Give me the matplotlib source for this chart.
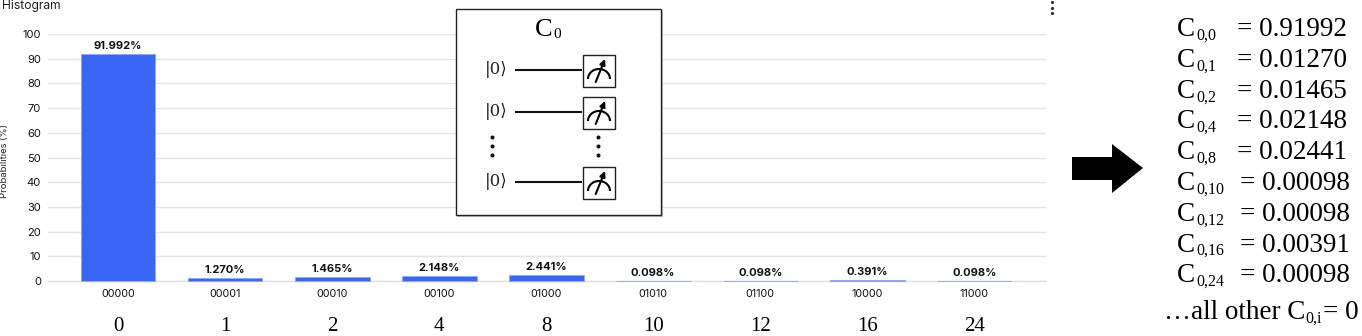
import matplotlib
matplotlib.use('Agg')
import matplotlib.pyplot as plt
from matplotlib.patches import Rectangle, Polygon, Arc

# values
bitstrings = ['00000', '00001', '00010', '00100', '01000', '01010', '01100', '10000', '11000']
states = ['0', '1', '2', '4', '8', '10', '12', '16', '24']
probabilities = [91.992, 1.270, 1.465, 2.148, 2.441, 0.098, 0.098, 0.391, 0.098]
coeff_values = ['0.91992', '0.01270', '0.01465', '0.02148', '0.02441', '0.00098', '0.00098', '0.00391', '0.00098']

W, H = 1362, 336
ui_font = ['Inter', 'DejaVu Sans']
serif = ['Liberation Serif', 'DejaVu Serif']

fig = plt.figure(figsize=(W / 100, H / 100), dpi=100)

# histogram
ax = fig.add_axes([48 / W, 1 - 281 / H, (1046 - 48) / W, (281 - 34) / H])
xs = list(range(len(states)))
ax.set_axisbelow(True)
ax.yaxis.grid(True, color='#e4e4e4', linewidth=1)
ax.axhline(0, color='#e0e0e0', linewidth=1, clip_on=False, zorder=0.5)
ax.bar(xs, probabilities, width=0.7, color='#3a66f5', edgecolor='#8fa8fa', linewidth=0.6, zorder=2, clip_on=False)
for x, p in zip(xs, probabilities):
    ax.text(x, p + 1.2, f'{p:.3f}%', ha='center', va='bottom', fontsize=8,
            fontweight='bold', family=ui_font, color='#111111')
ax.set_xlim(-0.654, 8.67)
ax.set_ylim(0, 100)
ax.set_yticks(range(0, 101, 10))
ax.set_xticks(xs)
ax.set_xticklabels(bitstrings)
ax.tick_params(axis='y', length=0, labelsize=8, labelcolor='#111111', pad=5)
ax.tick_params(axis='x', length=0, labelsize=7.8, labelcolor='#111111', pad=6)
for lab in ax.get_xticklabels() + ax.get_yticklabels():
    lab.set_family(ui_font)
for s in ax.spines.values():
    s.set_visible(False)

# everything else is placed in pixel coordinates
ov = fig.add_axes([0, 0, 1, 1], zorder=5)
ov.set_xlim(0, W)
ov.set_ylim(H, 0)
ov.axis('off')
ov.patch.set_alpha(0)

ov.text(2, 6, 'Histogram', fontsize=8.7, family=ui_font, va='center', color='#222222')
ov.text(5, 161, 'Probabilities (%)', fontsize=6.8, family=ui_font, rotation=90,
        va='center', ha='center', color='#222222')
for y in [2, 7.5, 13]:
    ov.plot([1052], [y], 'o', ms=1.3, color='#333333')

# state labels under the bars
for x, st in zip(xs, states):
    px = ax.transData.transform((x, 0))[0]
    ov.text(px, 331, st, fontsize=15, family=serif, ha='center', va='baseline', color='black')

# circuit inset
ov.add_patch(Rectangle((457, 11), 206, 206, fc='#9a9a9a', ec='none', alpha=0.6))
ov.add_patch(Rectangle((455.5, 8.5), 205, 206, fc='white', ec='#222222', lw=1))
ov.text(535, 36, 'C', fontsize=19, family=serif, ha='left', va='baseline')
ov.text(553, 38.5, '0', fontsize=11, family=serif, ha='left', va='baseline')

for y in [70, 112, 182]:
    ov.text(496, y, '|0\u27e9', fontsize=12, family=['DejaVu Serif'], ha='center', va='center', color='#222222')
    ov.plot([515, 582], [y, y], color='#111111', lw=1.5, solid_capstyle='butt')
    ov.add_patch(Rectangle((582.5, y - 15), 32, 32, fc='white', ec='#222222', lw=1))
    ov.add_patch(Arc((599, y + 9), 22, 20, theta1=180, theta2=360, color='black', lw=1.5))
    ov.annotate('', xy=(605, y - 11), xytext=(595.7, y + 12),
                arrowprops=dict(arrowstyle='-|>', color='black', lw=1.5, mutation_scale=8,
                                shrinkA=0, shrinkB=0))

for x in [491.7, 598]:
    for y in [137, 146, 154.5]:
        ov.plot([x], [y], 'o', ms=1.9, color='#111111')

# big arrow
ov.add_patch(Polygon([(1072, 157), (1112, 157), (1112, 144), (1143, 168),
                      (1112, 193), (1112, 180), (1072, 180)], fc='black', ec='none'))

# coefficient list, one baseline per row
row_base = [36, 67, 98, 128.5, 159, 190, 221, 251.5, 282]
for st, val, y in zip(states, coeff_values, row_base):
    ov.text(1177, y, 'C', fontsize=19.5, family=serif, va='baseline', ha='left')
    ov.text(1196, y + 3.5, '0,' + st, fontsize=11.5, family=serif, va='baseline', ha='left')
    eq_x = 1237 if len(st) == 1 else 1240
    ov.text(eq_x, y, '= ' + val, fontsize=19.5, family=serif, va='baseline', ha='left')

ov.text(1164, 319, '\u2026all other C', fontsize=19.5, family=serif, va='baseline', ha='left')
ov.text(1305, 323, '0,i', fontsize=11.5, family=serif, va='baseline', ha='left')
ov.text(1323, 319, '= 0', fontsize=19.5, family=serif, va='baseline', ha='left')

fig.savefig('out.png', dpi=100)
